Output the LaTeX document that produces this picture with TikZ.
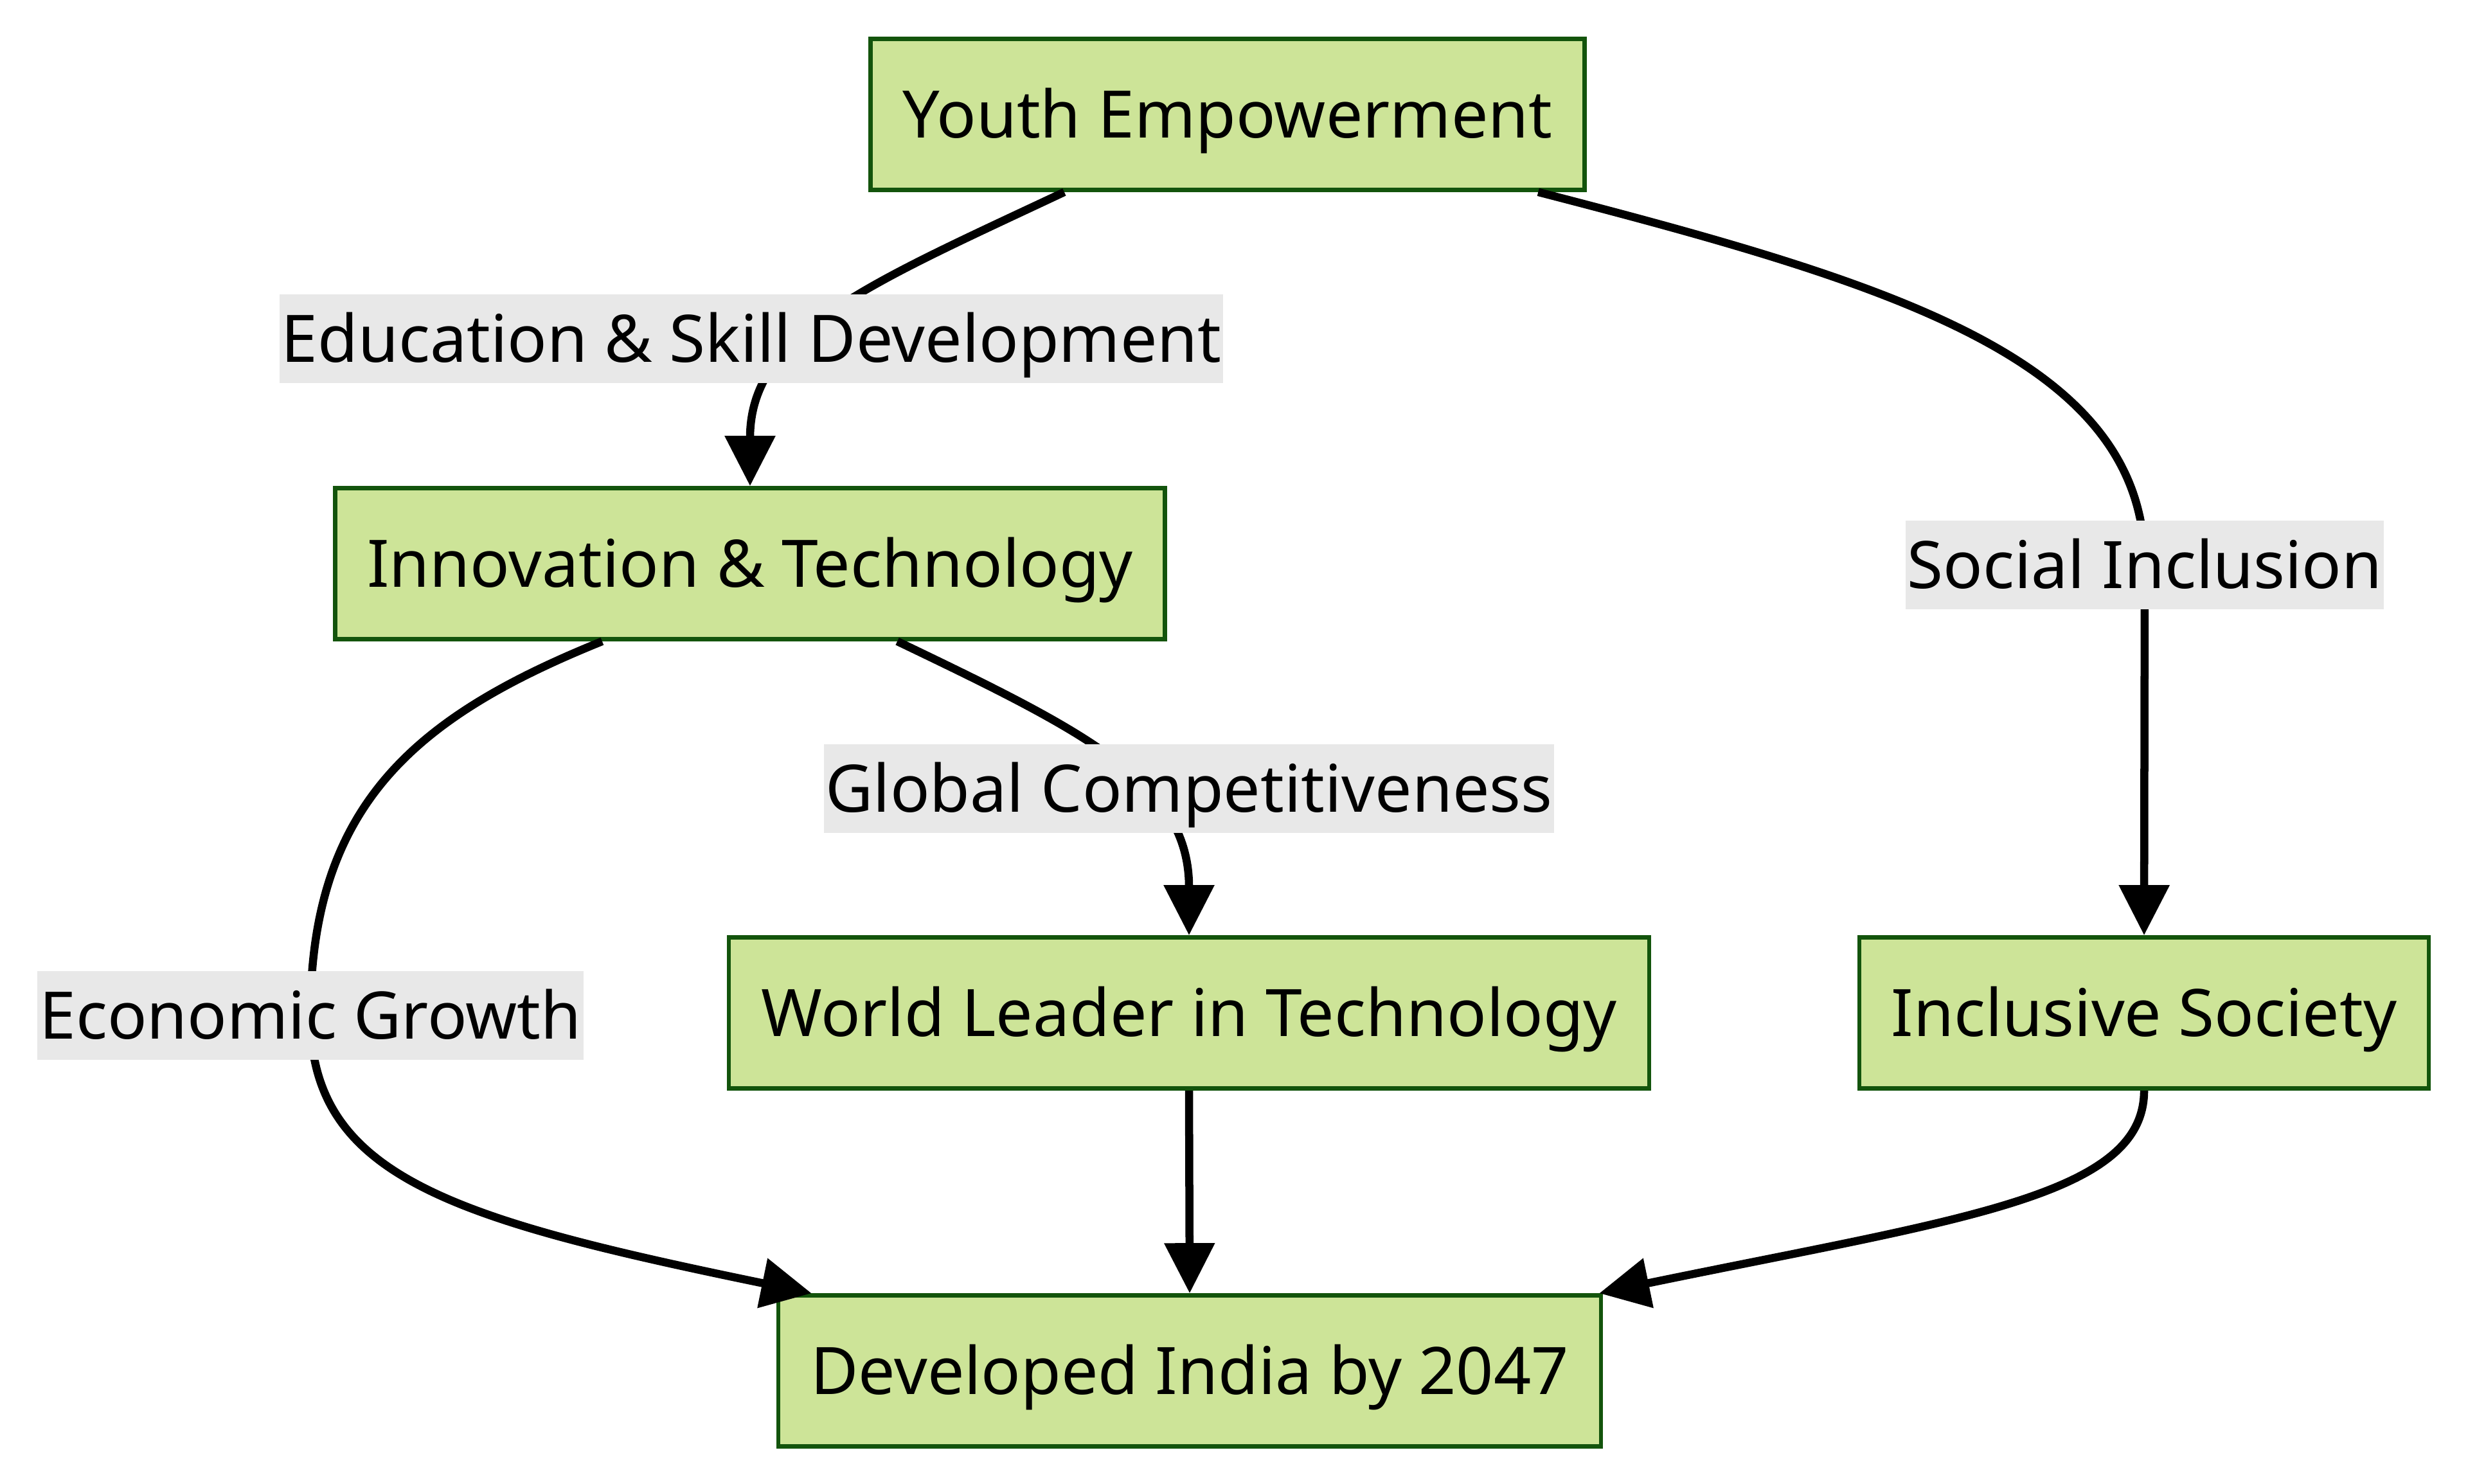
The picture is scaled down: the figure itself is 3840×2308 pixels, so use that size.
\documentclass[tikz,border=0pt]{standalone}
\usepackage{fontspec}
\setmainfont{Noto Sans}
\usetikzlibrary{arrows.meta}
\definecolor{goalfill}{HTML}{CDE498}
\definecolor{goalline}{HTML}{13540C}
\definecolor{labelbg}{HTML}{E8E8E8}
\tikzset{every node/.style={font=\fontsize{29pt}{35pt}\selectfont},
    goal/.style={draw=goalline, fill=goalfill, line width=0.065cm,
        minimum height=2.35cm, inner xsep=0.5cm, text height=0.73cm, text depth=0cm},
    edgelabel/.style={fill=labelbg, minimum height=1.37cm, inner xsep=0.03cm,
        inner ysep=0cm, text height=0.73cm, text depth=0cm},
    flow/.style={line width=0.125cm, -{Triangle[length=0.78cm,width=0.76cm]}},
    }
\begin{document}
\begin{tikzpicture}[x=0.01cm, y=-0.01cm]
\fill[white] (0,0) rectangle (3840,2308);
\useasboundingbox (0,0) rectangle (3840,2308);
\node[goal] (youth) at (1910,178) {Youth Empowerment};
\node[goal] (innov) at (1167,877) {Innovation \& Technology};
\node[goal] (leader) at (1850,1576) {World Leader in Technology};
\node[goal] (society) at (3336,1576) {Inclusive Society};
\node[goal] (india) at (1851,2133) {Developed India by 2047};
\coordinate (eduL) at (1169,527);
\coordinate (socialL) at (3337,879);
\coordinate (globalL) at (1850,1227);
\coordinate (econL) at (483,1580);
% connectors first, labels on top
\draw[flow] ([xshift=-2.54cm]youth.south) .. controls +(-306,144) and +(0,-239) .. (innov.north);
\draw[flow] ([xshift=4.83cm]youth.south) .. controls +(557,144) and +(0,-319) .. (socialL) -- (society.north);
\draw[flow] ([xshift=2.29cm]innov.south) .. controls +(294,141) and +(0,-237) .. (leader.north);
\draw[flow] ([xshift=-2.30cm]innov.south) .. controls +(-287,116) and +(0,-330) .. (econL)
    .. controls +(0,250) and +(-563,-116) .. ([xshift=-5.88cm]india.north);
\draw[flow] (leader.south) -- (india.north);
\draw[flow] (society.south) .. controls +(0,165) and +(562,-116) .. ([xshift=6.37cm]india.north);
\node[edgelabel] (edu) at (eduL) {Education \& Skill Development};
\node[edgelabel] (social) at (socialL) {Social Inclusion};
\node[edgelabel] (global) at (globalL) {Global Competitiveness};
\node[edgelabel] (econ) at (econL) {Economic Growth};
\end{tikzpicture}
\end{document}
